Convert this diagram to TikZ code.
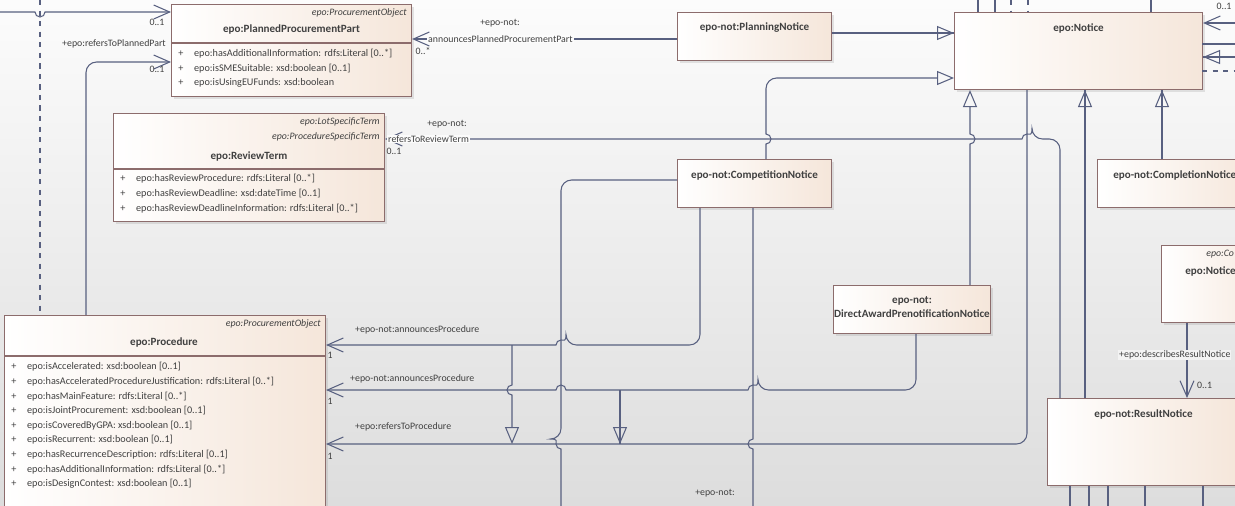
\documentclass[tikz,border=0pt]{standalone}
\usepackage{fontspec}
\setmainfont{Carlito}
\usetikzlibrary{positioning,arrows.meta,calc,shadows}
\definecolor{wirecol}{RGB}{88,96,128}
\definecolor{boxline}{RGB}{140,108,108}
\definecolor{boxfill}{RGB}{245,230,218}
\definecolor{txtcol}{RGB}{64,64,64}
\definecolor{bgtop}{RGB}{252,252,252}
\definecolor{bgbot}{RGB}{221,221,221}
\tikzset{
  cls/.style={draw=boxline, line width=0.6pt, left color=white, right color=boxfill,
    anchor=north west, inner sep=0pt,
    drop shadow={opacity=0.2, shadow xshift=0.05cm, shadow yshift=-0.05cm}},
  nm/.style={font=\fontsize{6.3}{7.5}\selectfont\bfseries, text=txtcol, inner sep=0pt},
  st/.style={font=\fontsize{5.6}{7}\selectfont\itshape, text=txtcol, inner sep=0pt, anchor=east},
  attr/.style={font=\fontsize{5.8}{7}\selectfont, text=txtcol, inner sep=0pt, anchor=west},
  lbl/.style={font=\fontsize{5.6}{7}\selectfont, text=txtcol, inner sep=0.5pt},
  wire/.style={draw=wirecol, line width=0.6pt},
  assoc/.style={wire, -{Straight Barb[length=0.32cm,width=0.28cm]}},
  gen/.style={wire, -{Triangle[open,length=0.34cm,width=0.28cm]}},
}
\newcommand{\clsbox}[5]{\node[cls, minimum width=#4*0.02cm, minimum height=#5*0.02cm] (#1) at (#2,#3) {};}
% straight generalisation: plain line, then the hollow head
\newcommand{\genline}[2]{\draw[wire] #1 -- #2; \draw[gen] ($#2!0.5cm!#1$) -- #2;}
\begin{document}
\begin{tikzpicture}[x=0.02cm, y=-0.02cm]
\useasboundingbox (0,0) rectangle (1235,505);
\fill[top color=bgtop, bottom color=bgbot] (0,0) rectangle (1235,505);
\clip (0,0) rectangle (1235,505);

% class boxes
\clsbox{ppp}{171}{4}{240}{92}
\clsbox{rt}{113}{113}{271}{108}
\clsbox{proc}{4}{315}{321}{200}
\clsbox{pn}{677}{12}{154}{48}
\clsbox{notice}{954}{12}{248}{77}
\clsbox{compn}{677}{159}{154}{48}
\clsbox{cpln}{1097}{159}{162}{48}
\clsbox{dapn}{833}{285}{157}{48}
\clsbox{conc}{1161}{245}{120}{77}
\clsbox{rn}{1047}{398}{192}{87}

\draw[boxline, line width=0.6pt] (171,43) -- (411,43) (113,169) -- (384,169) (4,356) -- (325,356);

% texts of the boxes
\node[st] (ppp-st) at ($(ppp.north east)+(-5,9)$) {epo:ProcurementObject};
\node[nm] (ppp-nm) at ($(ppp.north)+(0,25)$) {epo:PlannedProcurementPart};
\foreach \a [count=\i] in {epo:hasAdditionalInformation: rdfs:Literal [0..*],
  epo:isSMESuitable: xsd:boolean [0..1], epo:isUsingEUFunds: xsd:boolean}
  \node[attr] (ppp-a\i) at ($(ppp.north west)+(7,35.5+14.5*\i)$) {\makebox[9pt][l]{+}\a};

\node[st] (rt-st1) at ($(rt.north east)+(-5,9)$) {epo:LotSpecificTerm};
\node[st] (rt-st2) at ($(rt.north east)+(-5,24)$) {epo:ProcedureSpecificTerm};
\node[nm] (rt-nm) at ($(rt.north)+(0,43)$) {epo:ReviewTerm};
\foreach \a [count=\i] in {epo:hasReviewProcedure: rdfs:Literal [0..*],
  epo:hasReviewDeadline: xsd:dateTime [0..1],
  epo:hasReviewDeadlineInformation: rdfs:Literal [0..*]}
  \node[attr] (rt-a\i) at ($(rt.north west)+(7,51+15*\i)$) {\makebox[9pt][l]{+}\a};

\node[st] (proc-st) at ($(proc.north east)+(-5,9)$) {epo:ProcurementObject};
\node[nm] (proc-nm) at ($(proc.north west)+(160,27)$) {epo:Procedure};
\foreach \a [count=\i] in {epo:isAccelerated: xsd:boolean [0..1],
  epo:hasAcceleratedProcedureJustification: rdfs:Literal [0..*],
  epo:hasMainFeature: rdfs:Literal [0..*],
  epo:isJointProcurement: xsd:boolean [0..1],
  epo:isCoveredByGPA: xsd:boolean [0..1],
  epo:isRecurrent: xsd:boolean [0..1],
  epo:hasRecurrenceDescription: rdfs:Literal [0..1],
  epo:hasAdditionalInformation: rdfs:Literal [0..*],
  epo:isDesignContest: xsd:boolean [0..1]}
  \node[attr] (proc-a\i) at ($(proc.north west)+(7,37.5+14.6*\i)$) {\makebox[9pt][l]{+}\a};

\node[nm] (pn-nm) at ($(pn.north)+(0,16)$) {epo-not:PlanningNotice};
\node[nm] (notice-nm) at ($(notice.north)+(0,16)$) {epo:Notice};
\node[nm] (compn-nm) at ($(compn.north)+(0,16)$) {epo-not:CompetitionNotice};
\node[nm, anchor=west] (cpln-nm) at ($(cpln.north west)+(16,16)$) {epo-not:CompletionNotice};
\node[nm, align=center] (dapn-nm) at ($(dapn.north)+(0,22)$) {epo-not:\\DirectAwardPrenotificationNotice};
\node[st, anchor=west] (conc-st) at ($(conc.north west)+(45,9)$) {epo:Co};
\node[nm, anchor=west] (conc-nm) at ($(conc.north west)+(24,26)$) {epo:Notice};
\node[nm] (rn-nm) at ($(rn.north)+(0,16)$) {epo-not:ResultNotice};

% named points on the wires
\coordinate (tl) at (0,12);
\coordinate (j1) at (512,345);
\coordinate (j2) at (620,390);

% associations
\draw[wire, dashed] (40,0) -- (proc.north west -| 40,0);
\draw[assoc] (tl) -- (35,12) arc (180:0:5) -- (ppp.west |- tl);
\draw[assoc, rounded corners=6] ($(proc.north west)+(82,0)$) |- ($(ppp.north west)+(0,58)$);
\draw[assoc] (pn.west |- 0,39) -- (ppp.east |- 0,39);
\draw[assoc] (rn.north -| 1060,0) [rounded corners=6] -- (1060,139) -- (1032,139) [sharp corners]
  arc (0:-180:5) -- (rt.east |- 0,139);
\draw[assoc] (compn.south -| 700,0) [rounded corners=6] -- (700,345) -- (566,345) [sharp corners]
  arc (0:-180:5) -- (proc.east |- j1);
\draw[assoc] (dapn.south -| 916,0) [rounded corners=6] -- (916,390) -- (758,390) [sharp corners]
  arc (0:-180:5) -- (566,390) arc (0:-180:5) -- (proc.east |- j2);
\draw[assoc] (notice.south -| 1027,0) [rounded corners=6] -- (1027,444) -- (proc.east |- 0,444);
\draw[assoc] (conc.south -| 1187,0) -- (rn.north -| 1187,0);
\draw[assoc] (1235,23) -- (notice.east |- 0,23);

% generalisations
\genline{(pn.east |- 0,33)}{(notice.west |- 0,33)}
\draw[gen] (compn.north -| 766,0) -- (766,144) arc (90:-90:5) [rounded corners=6] -- (766,78) -- (notice.west |- 0,78);
\draw[gen] (dapn.north -| 970,0) -- (970,144) arc (90:-90:5) -- (notice.south -| 970,0);
\genline{(cpln.north -| 1162,0)}{(notice.south -| 1162,0)}
\genline{(rn.north -| 1085,0)}{(notice.south -| 1085,0)}
\draw[gen] (j1) -- (512,385) arc (-90:-270:5) -- (512,444);
\genline{(j2)}{(620,444)}
\genline{(1235,57)}{(notice.east |- 0,57)}

% other wires
\draw[wire] (compn.west |- 0,180) [rounded corners=6] -- (561,180) -- (561,439) [sharp corners]
  arc (-90:-270:5) -- (561,510);
\draw[wire] (compn.south -| 753,0) -- (753,439) arc (-90:-270:5) -- (753,510);
\draw[wire] (1202,44) -- (1235,44);
\draw[wire, dashed] (1202,71) -- (1235,71);
\foreach \x in {978,995,1151} \draw[wire] (\x,0) -- (notice.north -| \x,0);
\foreach \x in {1011,1028} \draw[wire, dashed] (\x,0) -- (notice.north -| \x,0);
\foreach \x in {1070,1089,1108,1145,1203} \draw[wire] (rn.south -| \x,0) -- (\x,510);

% wire labels
\node[lbl] (m1) at (157,22) {0..1};
\node[lbl, anchor=east] (l1) at (167,44) {+epo:refersToPlannedPart};
\node[lbl] (m2) at (157,69) {0..1};
\node[lbl] (l2a) at (500,23) {+epo-not:};
\node[lbl, anchor=west, fill=bgtop] (l2b) at (427,39) {announcesPlannedProcurementPart};
\node[lbl] (m3) at (423,51) {0..*};
\node[lbl] (l3a) at (447,124) {+epo-not:};
\node[lbl, anchor=west, fill=bgtop!97!bgbot] (l3b) at (387,139) {refersToReviewTerm};
\node[lbl] (m4) at (394,151) {0..1};
\node[lbl, anchor=west] (l4) at (354,330) {+epo-not:announcesProcedure};
\node[lbl] (m5) at (330,355) {1};
\node[lbl, anchor=west] (l5) at (349,379) {+epo-not:announcesProcedure};
\node[lbl] (m6) at (330,401) {1};
\node[lbl, anchor=west] (l6) at (354,427) {+epo:refersToProcedure};
\node[lbl] (m7) at (330,456) {1};
\node[lbl] (l7) at (715,493) {+epo-not:};
\node[lbl, anchor=west, fill=bgtop!70!bgbot] (l8) at (1118,355) {+epo:describesResultNotice};
\node[lbl, anchor=west] (m8) at (1196,385) {0..1};
\node[lbl] (m9) at (1224,6) {0..1};
\end{tikzpicture}
\end{document}
